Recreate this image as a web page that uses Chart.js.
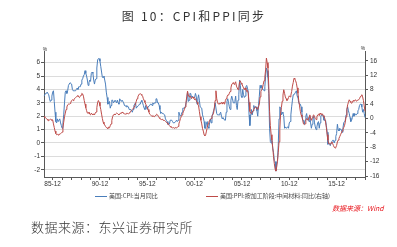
<!DOCTYPE html>
<html>
<head>
<meta charset="utf-8">
<script src="https://cdn.jsdelivr.net/npm/chart.js@4/dist/chart.umd.min.js"></script>
<style>
  html, body { margin: 0; padding: 0; background: #fff; }
  #wrap { position: relative; width: 397px; height: 247px; overflow: hidden; font-family: "Noto Sans CJK SC", sans-serif; }
  #chart { position: absolute; left: 0; top: 0; }
  .title { position: absolute; left: 0; width: 388px; top: 7px; text-align: center; font-size: 12px; color: #333; letter-spacing: 2.2px; }
  .legend { position: absolute; top: 192px; font-size: 6px; color: #444; white-space: nowrap; line-height: 8px; }
  .legend i { display: inline-block; width: 12px; height: 0; border-top: 1px solid; vertical-align: middle; margin-right: 2px; }
  .wind { position: absolute; left: 332px; top: 203px; font-size: 7px; color: #e8141b; font-style: italic; }
  .source { position: absolute; left: 31px; top: 217px; font-size: 13px; letter-spacing: 0.5px; color: #333; font-family: "Noto Sans CJK SC", serif; font-weight: 300; }
</style>
</head>
<body>
<div id="wrap">
  <canvas id="chart" width="397" height="247"></canvas>
  <div class="title">图 10：CPI和PPI同步</div>
  <div class="legend" style="left:95px"><i style="border-color:#4a7ebb"></i>美国:CPI:当月同比</div>
  <div class="legend" style="left:206px"><i style="border-color:#be4b48"></i>美国:PPI:按加工阶段:中间材料:同比(右轴)</div>
  <div class="wind">数据来源：Wind</div>
  <div class="source">数据来源：东兴证券研究所</div>
</div>
<script>
// months 1985-01 .. 2018-12
const years = [1985,1986,1987,1988,1989,1990,1991,1992,1993,1994,1995,1996,1997,1998,1999,2000,2001,
  2002,2003,2004,2005,2006,2007,2008,2009,2010,2011,2012,2013,2014,2015,2016,2017,2018];
const tickLabels = ['85-12', '90-12', '95-12', '00-12', '05-12', '10-12', '15-12'];

const cpiYoY = [
  3.5,3.5,3.7,3.7,3.8,3.8,3.6,3.3,3.1,3.2,3.5,3.8,
  3.9,3.1,2.3,1.6,1.5,1.8,1.6,1.6,1.8,1.5,1.3,1.1,
  1.5,2.1,3.0,3.8,3.9,3.7,3.9,4.3,4.4,4.5,4.5,4.4,
  4.0,3.9,3.9,3.9,3.9,4.0,4.1,4.0,4.2,4.2,4.2,4.4,
  4.7,4.8,5.0,5.1,5.4,5.2,5.0,4.7,4.3,4.5,4.7,4.6,
  5.2,5.3,5.2,4.7,4.4,4.7,4.8,5.6,6.2,6.3,6.3,6.1,
  5.7,5.3,4.9,4.9,5.0,4.7,4.4,3.8,3.4,2.9,3.0,3.1,
  2.6,2.8,3.2,3.2,3.0,3.1,3.2,3.1,3.0,3.2,3.0,2.9,
  3.3,3.2,3.1,3.2,3.2,3.0,2.8,2.8,2.7,2.8,2.7,2.7,
  2.5,2.5,2.5,2.4,2.3,2.5,2.8,2.9,3.0,2.6,2.7,2.7,
  2.8,2.9,2.9,3.1,3.2,3.0,2.8,2.6,2.5,2.8,2.6,2.5,
  2.7,2.7,2.8,2.9,2.9,2.8,3.0,2.9,3.0,3.0,3.3,3.3,
  3.0,3.0,2.8,2.5,2.2,2.3,2.2,2.2,2.2,2.1,1.8,1.7,
  1.6,1.4,1.4,1.4,1.7,1.7,1.7,1.6,1.5,1.5,1.5,1.6,
  1.7,1.6,1.7,2.3,2.1,2.0,2.1,2.3,2.6,2.6,2.6,2.7,
  2.7,3.2,3.8,3.1,3.2,3.7,3.7,3.4,3.5,3.4,3.4,3.4,
  3.7,3.5,2.9,3.3,3.6,3.2,2.7,2.7,2.6,2.1,1.9,1.6,
  1.1,1.1,1.5,1.6,1.2,1.1,1.5,1.8,1.5,2.0,2.2,2.4,
  2.6,3.0,3.0,2.2,2.1,2.1,2.1,2.2,2.3,2.0,1.8,1.9,
  1.9,1.7,1.7,2.3,3.1,3.3,3.0,2.7,2.5,3.2,3.5,3.3,
  3.0,3.0,3.1,3.5,2.8,2.5,3.2,3.6,4.7,4.3,3.5,3.4,
  4.0,3.6,3.4,3.5,4.2,4.3,4.1,3.8,2.1,1.3,2.0,2.5,
  2.1,2.4,2.8,2.6,2.7,2.7,2.4,2.0,2.8,3.5,4.3,4.1,
  4.3,4.0,4.0,3.9,4.2,5.0,5.6,5.4,4.9,3.7,1.1,0.1,
  0.0,0.2,-0.4,-0.7,-1.3,-1.4,-2.1,-1.5,-1.3,-0.2,1.8,2.7,
  2.6,2.1,2.3,2.2,2.0,1.1,1.2,1.1,1.1,1.2,1.1,1.5,
  1.6,2.1,2.7,3.2,3.6,3.6,3.6,3.8,3.9,3.5,3.4,3.0,
  2.9,2.9,2.7,2.3,1.7,1.7,1.4,1.7,2.0,2.2,1.8,1.7,
  1.6,2.0,1.5,1.1,1.4,1.8,2.0,1.5,1.2,1.0,1.2,1.5,
  1.6,1.1,1.5,2.0,2.1,2.1,2.0,1.7,1.7,1.7,1.3,0.8,
  -0.1,0.0,-0.1,-0.2,0.0,0.1,0.2,0.2,0.0,0.2,0.5,0.7,
  1.4,1.0,0.9,1.1,1.0,1.0,0.8,1.1,1.5,1.6,1.7,2.1,
  2.5,2.7,2.4,2.2,1.9,1.6,1.7,1.9,2.2,2.0,2.2,2.1,
  2.1,2.2,2.4,2.5,2.8,2.9,2.9,2.7,2.3,2.5,2.2,1.9
];

const ppiYoY = [
  0.5,0.3,0.2,0.0,-0.2,-0.5,-0.6,-0.4,-0.2,-0.3,-0.5,-0.4,
  -1.5,-2.5,-3.5,-4.2,-4.5,-4.4,-4.6,-4.3,-4.4,-4.2,-4.0,-3.8,
  -2.5,-1.0,0.5,1.5,2.5,3.2,3.8,4.0,3.9,4.2,4.5,5.0,
  5.2,5.0,5.4,5.6,5.8,6.0,6.2,6.4,6.0,5.8,6.2,6.5,
  7.0,6.8,6.2,5.0,4.0,3.0,2.2,1.5,1.5,1.8,1.2,1.0,
  1.5,1.2,1.0,1.3,1.0,1.5,1.8,3.0,4.5,5.0,4.5,3.5,
  2.5,1.2,0.0,-1.0,-1.5,-1.8,-2.2,-2.5,-2.6,-2.8,-2.4,-2.6,
  -2.0,-1.5,-0.5,0.5,1.0,1.2,1.0,1.3,1.5,1.4,1.2,1.0,
  1.2,1.5,1.4,1.8,1.6,1.4,1.3,1.2,1.3,1.5,1.4,1.3,
  1.5,1.8,2.0,2.3,2.5,2.8,3.0,3.5,4.0,4.8,5.5,6.0,
  6.5,6.8,6.9,6.7,6.5,6.2,5.5,5.0,4.5,4.0,3.5,3.2,
  2.5,1.8,1.2,1.0,0.8,0.6,0.8,0.6,0.5,0.8,1.0,1.2,
  1.0,0.6,0.2,0.0,-0.2,-0.3,-0.2,-0.5,-0.4,-0.6,-0.8,-1.0,
  -1.2,-1.5,-1.8,-2.0,-2.2,-2.4,-2.5,-2.6,-2.5,-2.7,-2.6,-2.5,
  -2.6,-2.5,-2.2,-1.5,-0.8,0.0,0.5,1.0,1.5,2.0,2.5,3.2,
  4.5,6.0,7.6,6.5,6.0,6.3,6.0,5.5,5.8,6.0,5.6,5.2,
  5.5,5.0,4.5,4.0,3.5,2.0,0.5,-0.5,-1.5,-2.8,-3.5,-4.5,
  -4.8,-4.5,-3.5,-2.5,-1.5,-1.0,-0.5,-0.2,0.0,0.8,1.0,1.5,
  3.0,5.0,7.7,5.5,4.5,4.0,4.2,4.0,4.2,4.5,4.0,4.5,
  4.2,4.0,5.0,5.5,6.0,6.5,6.5,7.0,7.5,8.5,9.5,9.6,
  10.0,9.5,9.8,10.2,9.0,8.5,8.0,8.5,10.2,10.4,9.8,9.5,
  9.0,8.5,8.0,8.5,8.0,7.5,7.8,7.0,4.5,2.0,1.5,1.3,
  1.8,2.2,2.5,3.0,3.2,3.0,2.8,2.5,3.2,4.0,6.0,7.5,
  8.0,8.5,9.5,10.5,11.5,13.5,16.8,15.5,14.0,9.0,2.0,-2.0,
  -4.5,-6.0,-8.0,-10.5,-12.5,-14.0,-14.6,-13.5,-12.0,-9.5,-6.5,-3.0,
  1.5,3.0,4.8,6.5,8.0,7.0,6.0,5.5,5.0,5.2,5.8,6.3,
  6.0,6.5,7.5,9.0,10.0,11.2,11.0,10.5,9.8,8.5,7.0,5.0,
  3.5,2.0,1.0,0.5,-0.5,-1.5,-1.7,-1.5,-0.5,0.0,-0.3,-0.5,
  0.5,1.0,0.0,-0.5,0.2,0.8,1.0,0.5,0.0,-0.3,0.5,1.0,
  1.2,0.8,1.5,1.2,1.0,1.3,0.8,0.5,0.0,-1.0,-2.5,-4.5,
  -6.0,-7.0,-7.0,-7.2,-6.8,-6.5,-7.0,-7.5,-8.0,-8.2,-8.0,-7.5,
  -6.5,-6.0,-5.5,-5.0,-4.5,-4.0,-3.5,-3.0,-2.5,-2.0,-1.0,0.5,
  2.5,3.8,4.5,5.2,4.8,4.5,4.2,4.5,5.0,4.8,5.0,5.2,
  4.8,5.0,5.0,5.2,5.5,6.0,6.3,6.6,6.0,5.0,3.5,2.0
];

const leftTicks = [-2, -1, 0, 1, 2, 3, 4, 5, 6];
const rightTicks = [-16, -12, -8, -4, 0, 4, 8, 12, 16];

const labels = [];
years.forEach(y => {
  for (let m = 1; m <= 12; m++) {
    labels.push(String(y).slice(2) + '-' + String(m).padStart(2, '0'));
  }
});

const axisColor = '#595959';
const tickFont = { family: 'Liberation Sans', size: 6.5 };

const unitLabels = {
  id: 'unitLabels',
  afterDraw(chart) {
    const { ctx, chartArea } = chart;
    ctx.save();
    ctx.fillStyle = '#333';
    ctx.font = '5px Liberation Sans';
    ctx.textAlign = 'center';
    ctx.textBaseline = 'bottom';
    ctx.fillText('%', chartArea.left + 1, chartArea.top + 1);
    ctx.fillText('%', chartArea.right - 2, chartArea.top);
    ctx.restore();
  }
};

new Chart(document.getElementById('chart'), {
  type: 'line',
  data: {
    labels: labels,
    datasets: [
      {
        label: '美国:CPI:当月同比',
        data: cpiYoY,
        yAxisID: 'y',
        borderColor: '#4a7ebb',
        borderWidth: 1,
        pointRadius: 0,
        tension: 0,
        order: 1
      },
      {
        label: '美国:PPI(右轴)',
        data: ppiYoY,
        yAxisID: 'y1',
        borderColor: '#be4b48',
        borderWidth: 1,
        pointRadius: 0,
        tension: 0,
        order: 0
      }
    ]
  },
  options: {
    responsive: false,
    animation: false,
    devicePixelRatio: 1,
    layout: { padding: { left: 0, right: 0, top: 51, bottom: 50 } },
    plugins: { legend: { display: false }, tooltip: { enabled: false } },
    scales: {
      x: {
        type: 'category',
        offset: false,
        afterBuildTicks(scale) {
          scale.ticks = labels
            .map((l, i) => ({ value: i, label: l }))
            .filter(t => t.label.endsWith('-12'));
        },
        afterFit(scale) { scale.height = 20; },
        ticks: {
          autoSkip: false,
          maxRotation: 0,
          padding: 0,
          color: '#333',
          font: tickFont,
          callback(value) {
            const l = labels[value];
            return tickLabels.includes(l) ? l : '';
          }
        },
        grid: { drawOnChartArea: false, tickLength: 3, tickColor: axisColor },
        border: { color: axisColor }
      },
      y: {
        position: 'left',
        min: -2.54,
        max: 6.87,
        afterBuildTicks(scale) { scale.ticks = leftTicks.map(v => ({ value: v })); },
        afterFit(scale) { scale.width = 44; },
        ticks: { padding: 1, color: '#333', font: tickFont },
        grid: { color: '#dcdcdc', tickLength: 3, tickColor: axisColor },
        border: { color: axisColor }
      },
      y1: {
        position: 'right',
        min: -16.25,
        max: 18.75,
        afterBuildTicks(scale) { scale.ticks = rightTicks.map(v => ({ value: v })); },
        afterFit(scale) { scale.width = 32; },
        ticks: { padding: 2, color: '#333', font: tickFont },
        grid: { drawOnChartArea: false, tickLength: 3, tickColor: axisColor },
        border: { color: axisColor }
      }
    }
  },
  plugins: [unitLabels]
});
</script>
</body>
</html>
